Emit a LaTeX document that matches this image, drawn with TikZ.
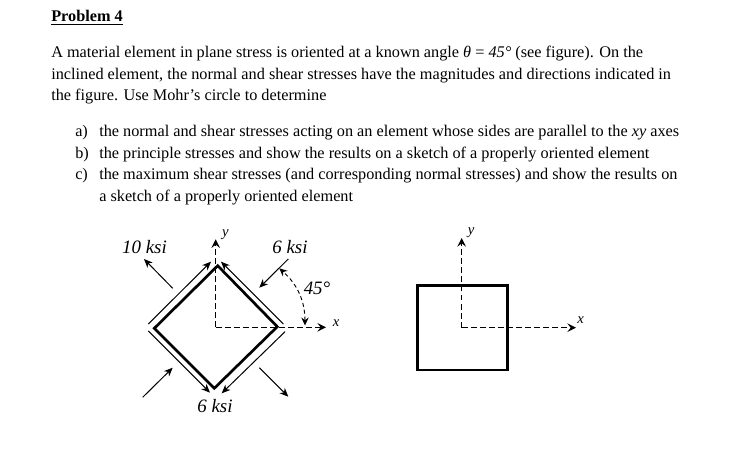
\documentclass[tikz,border=0pt]{standalone}
\usepackage{fontspec}
\setmainfont{Liberation Serif}
\usepackage{tikz}
\usetikzlibrary{arrows.meta}
\tikzset{
  textline/.style={anchor=base west,inner sep=0pt,font=\fontsize{12.2}{14}\selectfont},
  stresslabel/.style={inner sep=0pt,font=\fontsize{14.2}{16}\selectfont\itshape},
  axislabel/.style={inner sep=0pt,font=\fontsize{11}{13}\selectfont\itshape},
  element/.style={black,line width=2pt,line join=miter},
  stress/.style={black,line width=0.75pt,-{Stealth[length=6.5pt,width=5.5pt,inset=2pt]}},
  axis/.style={black,line width=1pt,dash pattern=on 4.4pt off 2.4pt,-{Stealth[length=6.5pt,width=6.5pt,inset=2.5pt]}},
}
\begin{document}
\begin{tikzpicture}[x=0.75pt,y=-0.75pt]
\useasboundingbox (0,0) rectangle (742,473);
% problem text
\node [textline,font=\fontsize{12.2}{14}\selectfont\bfseries] (title) at (51,22) {\underline{Problem 4}};
\node [textline] (para1) at (51,58) {A material element in plane stress is oriented at a known angle \textit{θ} = \textit{45°} (see figure). On the};
\node [textline] (para2) at (51,80) {inclined element, the normal and shear stresses have the magnitudes and directions indicated in};
\node [textline] (para3) at (51,101) {the figure. Use Mohr’s circle to determine};
\node [textline] (itema) at (75,137) {a)};
\node [textline] (itemb) at (75,159) {b)};
\node [textline] (itemc) at (75,180) {c)};
\node [textline] (texta) at (99,137) {the normal and shear stresses acting on an element whose sides are parallel to the \textit{xy} axes};
\node [textline] (textb) at (99,159) {the principle stresses and show the results on a sketch of a properly oriented element};
\node [textline] (textc) at (99,180) {the maximum shear stresses (and corresponding normal stresses) and show the results on};
\node [textline] (textd) at (99,202) {a sketch of a properly oriented element};
% inclined element
\coordinate (top) at (217.7,265.7);
\coordinate (right) at (277.3,326.7);
\coordinate (bottom) at (214.3,388.3);
\coordinate (left) at (154.3,328.3);
\draw [element] (top) -- (right) -- (bottom) -- (left) -- cycle;
% shear stresses
\coordinate (ula) at (148.3,324);
\coordinate (ulb) at (211,261.7);
\coordinate (ura) at (283.3,324);
\coordinate (urb) at (221,261.7);
\coordinate (lla) at (148.3,331);
\coordinate (llb) at (210,392.7);
\coordinate (lra) at (285,331.7);
\coordinate (lrb) at (221.7,393.3);
\draw [stress] (ula) -- (ulb);
\draw [stress] (ura) -- (urb);
\draw [stress] (lla) -- (llb);
\draw [stress] (lra) -- (lrb);
% normal stresses
\coordinate (na) at (172.7,288.3);
\coordinate (nb) at (144,259);
\coordinate (nc) at (288.3,259);
\coordinate (nd) at (259.3,287.7);
\coordinate (ne) at (142.7,397.3);
\coordinate (nf) at (172.7,367.7);
\coordinate (ng) at (259.3,367.7);
\coordinate (nh) at (288.3,396.7);
\draw [stress] (na) -- (nb);
\draw [stress] (nc) -- (nd);
\draw [stress] (ne) -- (nf);
\draw [stress] (ng) -- (nh);
% axes of inclined element
\coordinate (o1) at (215.7,327.3);
\coordinate (y1) at (215.7,239.3);
\coordinate (x1) at (326,327.3);
\draw [axis] (o1) -- (y1);
\draw [axis] (o1) -- (x1);
\coordinate (arca) at (305,325.5);
\coordinate (arcb) at (279.3,268.3);
\draw [axis,line width=0.7pt,{Stealth[length=6pt,width=5.5pt,inset=2pt]}-{Stealth[length=6pt,width=5.5pt,inset=2pt]},dash pattern=on 3pt off 2.2pt] (arca) to [bend right=24] (arcb);
% labels
\node [stresslabel] (ksiten) at (144.5,247) {10 ksi};
\node [stresslabel] (ksisix) at (290,247.5) {6 ksi};
\node [stresslabel] (ksibot) at (215,406) {6 ksi};
\node [stresslabel] (angle) at (317,288.5) {45°};
\node [axislabel] (ylabel) at (225.5,234.5) {y};
\node [axislabel] (xlabel) at (336,323.5) {x};
% element parallel to xy
\node [draw=black,line width=1.9pt,minimum width=67.5pt,minimum height=63.5pt,inner sep=0pt] (square) at (462.3,327.7) {};
\coordinate (o2) at (461.7,327.7);
\coordinate (y2) at (461.7,238);
\coordinate (x2) at (576,327.7);
\draw [axis] (o2) -- (y2);
\draw [axis] (o2) -- (x2);
\node [axislabel] (ylabeltwo) at (471,233) {y};
\node [axislabel] (xlabeltwo) at (580.5,320.5) {x};
\end{tikzpicture}
\end{document}
